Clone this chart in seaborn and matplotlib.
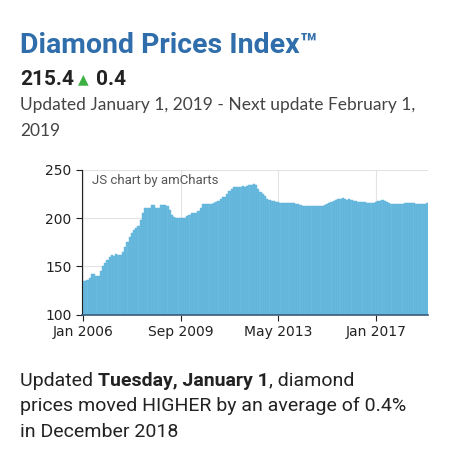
import matplotlib
matplotlib.use("Agg")
import matplotlib.pyplot as plt
import numpy as np
import pandas as pd
import seaborn as sns

# monthly index values, Jan 2006 .. Dec 2018
y2006 = [135, 135, 136, 138, 142, 142, 140, 140, 145, 150, 154, 157]
y2007 = [160, 162, 161, 163, 162, 162, 165, 170, 175, 180, 185, 188]
y2008 = [190, 192, 198, 205, 210, 210, 210, 213, 213, 210, 210, 213]
y2009 = [213, 213, 212, 208, 203, 201, 200, 200, 200, 200, 200, 202]
y2010 = [203, 205, 205, 205, 207, 210, 214, 215, 214, 215, 215, 216]
y2011 = [217, 218, 220, 222, 222, 225, 228, 230, 232, 232, 232, 232]
y2012 = [233, 232, 233, 234, 234, 235, 234, 230, 227, 225, 223, 220]
y2013 = [219, 218, 218, 217, 217, 216, 216, 216, 216, 216, 216, 216]
y2014 = [215, 214, 213, 212, 212, 212, 212, 212, 212, 212, 212, 212]
y2015 = [212, 213, 215, 216, 217, 218, 219, 220, 220, 221, 220, 219]
y2016 = [220, 219, 218, 218, 217, 217, 217, 217, 216, 216, 216, 216]
y2017 = [217, 218, 218, 219, 218, 217, 216, 215, 215, 214, 214, 214]
y2018 = [215, 216, 216, 216, 216, 216, 215, 215, 215, 215, 215, 215.4]
values = (y2006 + y2007 + y2008 + y2009 + y2010 + y2011 + y2012
          + y2013 + y2014 + y2015 + y2016 + y2017 + y2018)
months = pd.date_range("2006-01-01", periods=len(values), freq="MS")
tick_labels = ["Jan 2006", "Sep 2009", "May 2013", "Jan 2017"]

BAR = "#6bbbe0"
TITLE = "#2f6eaa"
DARK = "#222222"
GREY = "#444444"

df = pd.DataFrame({"month": np.arange(len(values)), "value": values})

fig = plt.figure(figsize=(4.74, 4.61), dpi=100)
ax = fig.add_axes([0.173, 0.317, 0.73, 0.315])
sns.barplot(data=df, x="month", y="value", color=BAR, width=1.0, saturation=1,
            edgecolor="#5aaed6", linewidth=0.3, ax=ax, native_scale=True)
ax.set_ylim(100, 250)
ax.set_xlim(-0.5, len(values) - 0.5)
ax.set_yticks([100, 150, 200, 250])
tick_pos = [i for i, m in enumerate(months) if m.strftime("%b %Y") in tick_labels]
ax.set_xticks(tick_pos)
ax.set_xticklabels(tick_labels)
ax.grid(True, color="#e3e3e3", linewidth=0.8)
ax.set_axisbelow(True)
for s in ["top", "right"]:
    ax.spines[s].set_visible(False)
ax.spines["left"].set_color(DARK)
ax.spines["bottom"].set_color("#3a5a78")
ax.spines["bottom"].set_linewidth(1.2)
ax.tick_params(labelsize=10, colors=DARK, length=4)
ax.set_xlabel("")
ax.set_ylabel("")
ax.text(0.03, 0.9, "JS chart by amCharts", transform=ax.transAxes,
        fontsize=9.5, color="#555555", family="Roboto")

fig.text(0.042, 0.885, "Diamond Prices Index™", fontsize=20.5, fontweight="bold",
         color=TITLE, family="Roboto")
fig.text(0.042, 0.815, "215.4", fontsize=15, fontweight="bold", color=DARK, family="Roboto")
fig.text(0.165, 0.819, "▲", fontsize=10, color="#3cb043", family="DejaVu Sans")
fig.text(0.203, 0.815, "0.4", fontsize=15, fontweight="bold", color=DARK, family="Roboto")
fig.text(0.042, 0.762, "Updated January 1, 2019 - Next update February 1,",
         fontsize=12.5, color=GREY, family="Lato")
fig.text(0.042, 0.705, "2019", fontsize=12.5, color=GREY, family="Lato")

# bottom paragraph, first line in three pieces (regular / bold / regular)
fs = 14
fig.canvas.draw()
r = fig.canvas.get_renderer()
x = 0.042
for part, wt in [("Updated ", "normal"), ("Tuesday, January 1", "bold"),
                 (", diamond", "normal")]:
    t = fig.text(x, 0.163, part, fontsize=fs, fontweight=wt, color=DARK, family="Roboto")
    bb = t.get_window_extent(renderer=r)
    x += bb.width / fig.bbox.width
fig.text(0.042, 0.108, "prices moved HIGHER by an average of 0.4%",
         fontsize=fs, color=DARK, family="Roboto")
fig.text(0.042, 0.053, "in December 2018", fontsize=fs, color=DARK, family="Roboto")

fig.savefig("out.png", dpi=100)
